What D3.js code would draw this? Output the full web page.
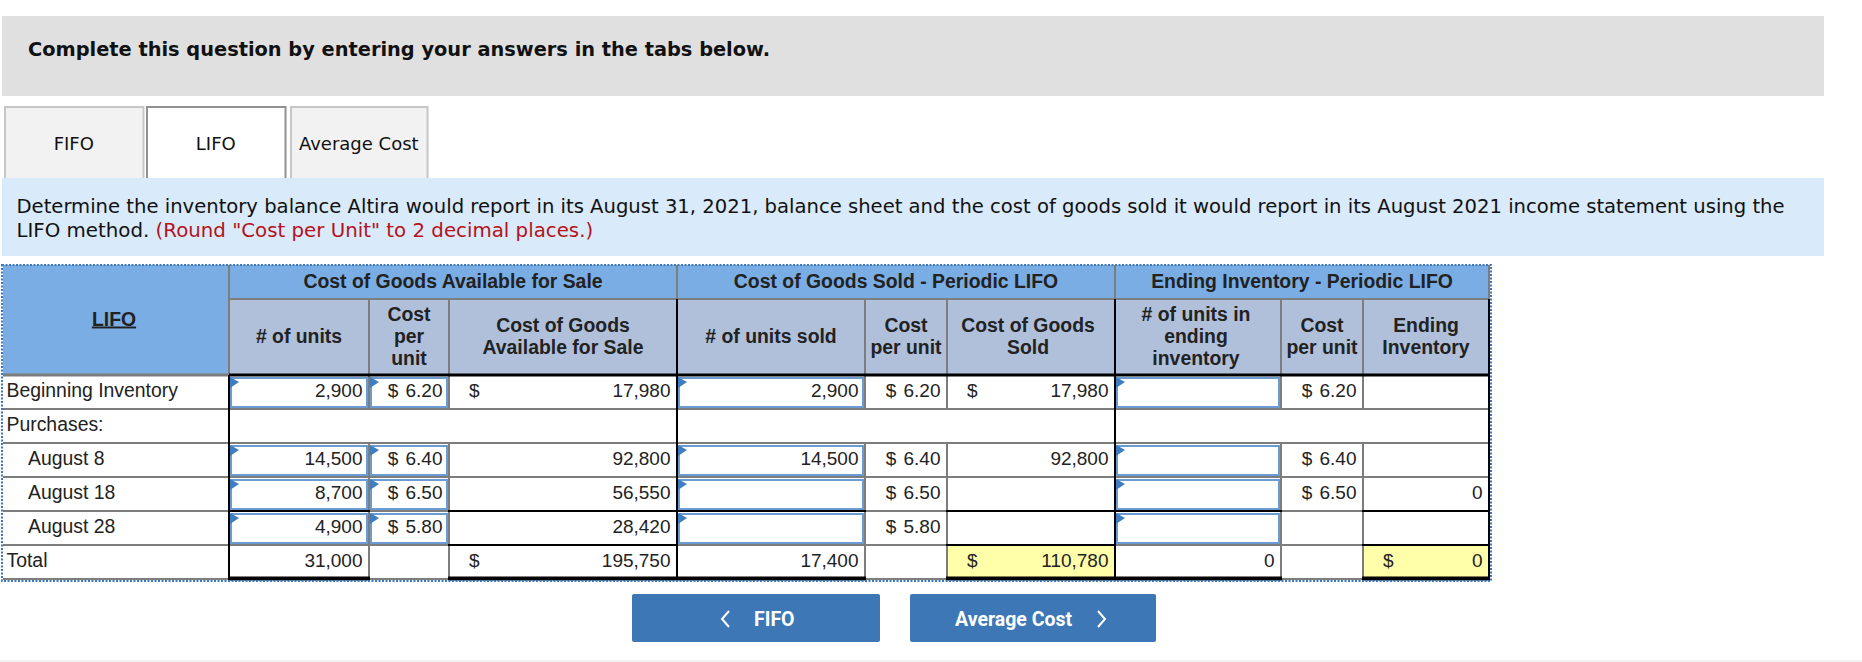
<!DOCTYPE html>
<html>
<head>
<meta charset="utf-8">
<script src="https://cdn.jsdelivr.net/npm/d3@7"></script>
<style>
  html, body { margin: 0; padding: 0; background: #fff; }
  svg { display: block; }
  .verdana { font-family: "DejaVu Sans", sans-serif; }
  .cell { font-family: "Liberation Sans", Arial, sans-serif; font-size: 19px; fill: #222; }
  .row-label { font-size: 19.4px; }
  .head { font-family: "Liberation Sans", Arial, sans-serif; font-size: 19.4px; font-weight: bold; fill: #222; text-anchor: middle; }
</style>
</head>
<body>
<div id="chart"></div>
<script>
// values
var tab_labels = ["FIFO", "LIFO", "Average Cost"];
var active_tab = "LIFO";
var row_labels = ["Beginning Inventory", "Purchases:", "August 8", "August 18", "August 28", "Total"];
var indented_rows = ["August 8", "August 18", "August 28"];

var group_headers = ["Cost of Goods Available for Sale", "Cost of Goods Sold - Periodic LIFO", "Ending Inventory - Periodic LIFO"];
var column_headers = [
    ["# of units"], ["Cost", "per", "unit"], ["Cost of Goods", "Available for Sale"],
    ["# of units sold"], ["Cost", "per unit"], ["Cost of Goods", "Sold"],
    ["# of units in", "ending", "inventory"], ["Cost", "per unit"], ["Ending", "Inventory"]
];

var units_available = ["2,900", "", "14,500", "8,700", "4,900", "31,000"];
var cost_available = ["$ 6.20", "", "$ 6.40", "$ 6.50", "$ 5.80", ""];
var goods_available = ["17,980", "", "92,800", "56,550", "28,420", "195,750"];
var units_sold = ["2,900", "", "14,500", "", "", "17,400"];
var cost_sold = ["$ 6.20", "", "$ 6.40", "$ 6.50", "$ 5.80", ""];
var goods_sold = ["17,980", "", "92,800", "", "", "110,780"];
var units_ending = ["", "", "", "", "", "0"];
var cost_ending = ["$ 6.20", "", "$ 6.40", "$ 6.50", "", ""];
var value_ending = ["", "", "", "0", "", "0"];

// rows where a column carries a $ sign at the left of the cell
var dollar_rows = { 2: ["Beginning Inventory", "Total"], 5: ["Beginning Inventory", "Total"], 8: ["Total"] };
var input_columns = [0, 1, 3, 6];
var input_rows = ["Beginning Inventory", "August 8", "August 18", "August 28"];

var columns = [units_available, cost_available, goods_available, units_sold, cost_sold, goods_sold, units_ending, cost_ending, value_ending];

//----------------------------------------------------------------------------------

var svg_width = 1862;
var svg_height = 662;

var svg = d3.select("#chart")
    .append("svg")
    .attr("width", svg_width)
    .attr("height", svg_height);

// page blocks
svg.append("rect").attr("x", 2).attr("y", 16).attr("width", 1822).attr("height", 80).attr("fill", "#e0e0e0");
svg.append("text")
    .attr("class", "verdana")
    .attr("x", 28).attr("y", 56)
    .attr("font-size", 19.37).attr("font-weight", "bold").attr("fill", "#111")
    .text("Complete this question by entering your answers in the tabs below.");

// tabs
var tab_x = d3.scaleOrdinal().domain(tab_labels).range([5, 147, 291]);
var tab_w = d3.scaleOrdinal().domain(tab_labels).range([138.5, 138.5, 136.5]);

var tabs = svg.selectAll(".tab")
    .data(tab_labels)
    .enter()
    .append("g")
    .attr("class", "tab");

tabs.append("rect")
    .attr("x", d => tab_x(d))
    .attr("y", 107)
    .attr("width", d => tab_w(d))
    .attr("height", 80)
    .attr("fill", d => d == active_tab ? "#fff" : "#f2f2f2")
    .attr("stroke", d => d == active_tab ? "#909090" : "#c6c6c6")
    .attr("stroke-width", 2);

tabs.append("text")
    .attr("class", "verdana")
    .attr("x", d => tab_x(d) + tab_w(d) / 2 - 0.5)
    .attr("y", 150)
    .attr("text-anchor", "middle")
    .attr("font-size", 18)
    .attr("fill", "#111")
    .text(d => d);

// instructions
svg.append("rect").attr("x", 2).attr("y", 178).attr("width", 1822).attr("height", 78).attr("fill", "#d9eafa");

var line_1 = svg.append("text").attr("class", "verdana").attr("x", 16.5).attr("y", 213).attr("font-size", 19.6).attr("fill", "#111");
line_1.text("Determine the inventory balance Altira would report in its August 31, 2021, balance sheet and the cost of goods sold it would report in its August 2021 income statement using the");

var line_2 = svg.append("text").attr("class", "verdana").attr("x", 16.5).attr("y", 237).attr("font-size", 19.8).attr("fill", "#111");
line_2.append("tspan").text("LIFO method. ");
line_2.append("tspan").attr("fill", "#b5121b").text("(Round \"Cost per Unit\" to 2 decimal places.)");

//----------------------------------------------------------------------------------

// table scales
var x_edge = d3.scaleOrdinal()
    .domain(d3.range(11))
    .range([3, 229, 369, 449, 677, 865, 947, 1115, 1281, 1363, 1489]);

var y_row = d3.scaleLinear().domain([0, 6]).range([375, 579]);
var row_index = d3.scaleOrdinal().domain(row_labels).range(d3.range(row_labels.length));

var grey = "#7d7d7d";
var black = "#000";
var text_dy = 21.5;

var table = svg.append("g");

// header fills
table.append("rect").attr("x", x_edge(0)).attr("y", 265).attr("width", x_edge(1) - x_edge(0)).attr("height", 110).attr("fill", "#7aade3");
table.append("rect").attr("x", x_edge(1)).attr("y", 265).attr("width", x_edge(10) - x_edge(1)).attr("height", 34).attr("fill", "#7aade3");
table.append("rect").attr("x", x_edge(1)).attr("y", 299).attr("width", x_edge(10) - x_edge(1)).attr("height", 76).attr("fill", "#b0c0da");

// yellow totals
[5, 8].forEach(function(c) {
    table.append("rect")
        .attr("x", x_edge(c + 1)).attr("y", y_row(5))
        .attr("width", x_edge(c + 2) - x_edge(c + 1)).attr("height", y_row(6) - y_row(5))
        .attr("fill", "#ffffaa");
});

function hline(x1, x2, y, color, w) {
    table.append("line").attr("x1", x1).attr("x2", x2).attr("y1", y).attr("y2", y).attr("stroke", color).attr("stroke-width", w);
}
function vline(x, y1, y2, color, w) {
    table.append("line").attr("x1", x).attr("x2", x).attr("y1", y1).attr("y2", y2).attr("stroke", color).attr("stroke-width", w);
}

// grey rules first, black ones go on top
hline(x_edge(1), x_edge(10), 299, grey, 2);
[1, 2, 3, 4, 5, 6].forEach(i => hline(x_edge(0), x_edge(10), y_row(i), grey, 2));
hline(x_edge(0), x_edge(1), y_row(0), grey, 3);
[1, 4, 7, 10].forEach(i => vline(x_edge(i), 265, 299, grey, 2));
vline(x_edge(1), 299, 375, grey, 2);
[2, 3, 5, 6, 8, 9].forEach(function(i) {
    vline(x_edge(i), 299, y_row(1), grey, 2);
    vline(x_edge(i), y_row(2), y_row(6) + 1, grey, 2);
});

[1, 4, 7].forEach(i => vline(x_edge(i), i == 1 ? 375 : 299, y_row(6), black, 2));
vline(x_edge(10), 299, y_row(6), black, 2);
hline(x_edge(1), x_edge(10), y_row(0), black, 3);

// black rules under the last rows, by table column
var thick = [1, 3, 4, 6, 7, 9];
thick.forEach(c => hline(x_edge(c) - 1, x_edge(c + 1) + 1, y_row(4), black, 2));
[3, 6, 9].forEach(c => hline(x_edge(c) - 1, x_edge(c + 1) + 1, y_row(5), black, 2));
thick.forEach(c => hline(x_edge(c) - 1, x_edge(c + 1) + 1, y_row(6) - 0.5, black, 4));

// dotted outline
table.append("rect")
    .attr("x", 2).attr("y", 265)
    .attr("width", 1489).attr("height", 316)
    .attr("fill", "none")
    .attr("stroke", "#3c78bd").attr("stroke-width", 2)
    .attr("stroke-dasharray", "2,1.5");

// answer boxes with the small corner flag
input_columns.forEach(function(c) {
    input_rows.forEach(function(r) {
        var i = row_index(r);
        var left = x_edge(c + 1) + 2;
        var right = x_edge(c + 2) - 2;
        var top = y_row(i) + 3;
        var bottom = y_row(i + 1) - 2;
        table.append("rect")
            .attr("x", left).attr("y", top)
            .attr("width", right - left).attr("height", bottom - top)
            .attr("fill", "#fff")
            .attr("stroke", "#6a9bd3").attr("stroke-width", 2);
        table.append("path")
            .attr("d", d3.line()([[left - 1, top - 1], [left + 8, top + 4], [left - 1, top + 10]]))
            .attr("fill", "#3f7cc0");
    });
});

// headers
var group_cols = [0, 3, 6];
group_headers.forEach(function(h, i) {
    table.append("text")
        .attr("class", "head")
        .attr("x", (x_edge(group_cols[i] + 1) + x_edge(group_cols[i] + 4)) / 2)
        .attr("y", 288)
        .text(h);
});

table.append("text")
    .attr("class", "head")
    .attr("x", 114).attr("y", 325.5)
    .attr("text-decoration", "underline")
    .text("LIFO");

// a few header cells sit slightly left of centre
var header_nudge = { 5: -3, 6: -2 };

column_headers.forEach(function(lines, c) {
    var cx = (x_edge(c + 1) + x_edge(c + 2)) / 2 + (header_nudge[c] || 0);
    lines.forEach(function(l, k) {
        table.append("text")
            .attr("class", "head")
            .attr("x", cx)
            .attr("y", 343 + (k - (lines.length - 1) / 2) * 22)
            .text(l);
    });
});

// row labels
table.selectAll(".row-label")
    .data(row_labels)
    .enter()
    .append("text")
    .attr("class", "cell row-label")
    .attr("x", d => indented_rows.includes(d) ? 28 : 6.5)
    .attr("y", d => y_row(row_index(d)) + text_dy)
    .text(d => d);

// values
columns.forEach(function(values, c) {
    table.selectAll(".col-" + c)
        .data(values)
        .enter()
        .append("text")
        .attr("class", "cell col-" + c)
        .attr("x", x_edge(c + 2) - 6.5)
        .attr("y", (d, i) => y_row(i) + text_dy)
        .attr("text-anchor", "end")
        .attr("word-spacing", 2)
        .text(d => d);

    (dollar_rows[c] || []).forEach(function(r) {
        table.append("text")
            .attr("class", "cell")
            .attr("x", x_edge(c + 1) + 20)
            .attr("y", y_row(row_index(r)) + text_dy)
            .text("$");
    });
});

//----------------------------------------------------------------------------------

// nav buttons
function button(x, w, label, tx, chevron) {
    svg.append("rect").attr("x", x).attr("y", 594).attr("width", w).attr("height", 48).attr("rx", 2).attr("fill", "#3d77b6");
    svg.append("text")
        .attr("x", tx).attr("y", 625.5)
        .attr("font-family", "Roboto, sans-serif").attr("font-weight", "bold").attr("font-size", 19.5)
        .attr("fill", "#fff")
        .text(label);
    svg.append("path")
        .attr("d", d3.line()(chevron))
        .attr("fill", "none").attr("stroke", "#fff").attr("stroke-width", 2);
}
button(632, 248, "FIFO", 754, [[729, 611], [722, 619], [729, 627]]);
button(910, 246, "Average Cost", 955, [[1098, 611], [1105, 619], [1098, 627]]);

svg.append("rect").attr("x", 0).attr("y", 660).attr("width", svg_width).attr("height", 2).attr("fill", "#f3f3f3");
</script>
</body>
</html>
